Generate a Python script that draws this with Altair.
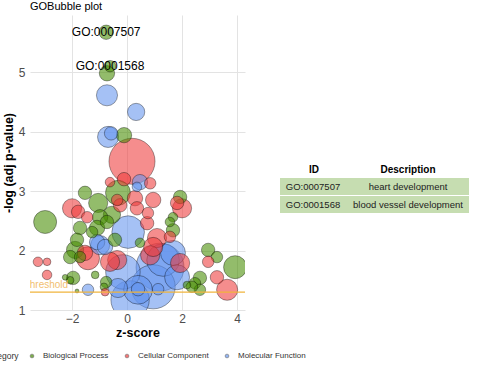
import altair as alt
import pandas as pd

zscore = [-0.76, -0.73, -0.62, -0.73, 0.33, -0.69, -0.58, -0.11, 0.18, -0.62,
          -0.11, 0.47, 0.84, 0.36, -1.53, -1.05, -0.33, -0.36, 0.29, 0.95,
          0.36, -2.00, -1.78, -1.45, -0.98, 1.93, 2.00, 1.82, 1.67, 1.67,
          -2.98, -1.71, -1.09, -0.73, 0.04, 1.09, 0.73, 1.56, -1.82, -0.98,
          -1.09, -0.44, 0.47, -2.07, -1.42, -1.71, -0.36, -3.24, -2.91, -2.91,
          -2.25, -1.96, -2.07, -1.16, -0.76, -0.84, -1.42, -1.82, -0.80, -0.15,
          1.20, 0.95, 0.40, -0.33, 1.13, 0.40, 1.82, 1.67, 0.11, 1.31,
          1.93, 0.84, -0.62, 2.95, 3.27, 2.95, 3.93, 3.27, 2.65, 2.47,
          2.65, 2.36, 3.64, 2.18, -0.55, -1.27, -0.25, 0.76, 1.56, -1.89,
          -1.53, -0.80, 0.95]
neglogp = [5.67, 4.98, 5.10, 4.61, 4.33, 3.91, 3.97, 3.94, 3.50, 3.15,
           3.20, 3.15, 3.13, 3.07, 2.97, 2.80, 2.97, 2.85, 2.88, 2.85,
           2.71, 2.71, 2.65, 2.56, 2.56, 2.90, 2.71, 2.80, 2.56, 2.34,
           2.48, 2.38, 2.38, 2.48, 2.31, 2.21, 2.46, 2.23, 2.18, 2.09,
           2.14, 2.18, 2.13, 1.89, 1.87, 1.89, 1.84, 1.81, 1.81, 1.59,
           1.55, 1.54, 1.50, 1.59, 1.47, 1.39, 1.34, 1.32, 1.30, 1.64,
           1.72, 1.39, 1.34, 1.37, 1.35, 1.35, 1.55, 1.96, 1.17, 1.84,
           1.79, 1.92, 1.81, 2.01, 1.89, 1.81, 1.72, 1.55, 1.54, 1.45,
           1.34, 1.39, 1.34, 1.42, 2.60, 2.31, 2.76, 2.63, 2.48, 2.01,
           1.96, 2.06, 2.06]
count = [56, 64, 36, 121, 81, 121, 49, 64, 576, 25,
         49, 64, 36, 25, 49, 100, 169, 36, 64, 64,
         49, 100, 49, 36, 64, 49, 100, 49, 25, 49,
         144, 49, 64, 49, 289, 100, 49, 36, 49, 100,
         64, 49, 25, 49, 144, 36, 100, 25, 16, 25,
         9, 49, 16, 16, 36, 16, 36, 4, 16, 324,
         625, 529, 225, 100, 36, 49, 169, 169, 400, 289,
         100, 100, 100, 49, 36, 36, 144, 49, 49, 36,
         36, 36, 121, 16, 81, 36, 49, 36, 25, 81,
         64, 64, 100]
category = ["BP", "BP", "BP", "MF", "MF", "MF", "MF", "BP", "CC", "CC",
            "CC", "MF", "CC", "MF", "BP", "BP", "BP", "CC", "CC", "CC",
            "CC", "CC", "CC", "CC", "BP", "BP", "CC", "CC", "BP", "BP",
            "BP", "BP", "BP", "BP", "MF", "CC", "CC", "CC", "BP", "MF",
            "MF", "BP", "BP", "BP", "CC", "BP", "CC", "CC", "CC", "CC",
            "BP", "BP", "BP", "BP", "BP", "BP", "MF", "BP", "CC", "MF",
            "MF", "MF", "MF", "MF", "MF", "MF", "MF", "MF", "MF", "MF",
            "CC", "CC", "CC", "BP", "BP", "CC", "BP", "CC", "BP", "BP",
            "BP", "BP", "CC", "BP", "BP", "BP", "CC", "CC", "BP", "BP",
            "CC", "MF", "CC"]
category_names = {"BP": "Biological Process", "CC": "Cellular Component",
                  "MF": "Molecular Function"}
category_colors = ["#458B00", "#EE3B3B", "#6495ED"]

label_ids = ["GO:0007507", "GO:0001568"]
label_desc = ["heart development", "blood vessel development"]
label_index = [0, 2]
threshold = 1.30103

df = pd.DataFrame({
    "zscore": zscore,
    "neglogp": neglogp,
    "count": count,
    "category": [category_names[c] for c in category],
})
lab = pd.DataFrame({
    "zscore": [zscore[i] for i in label_index],
    "neglogp": [neglogp[i] for i in label_index],
    "ID": label_ids,
})

FONT = "Liberation Sans"
W, H = 215, 295
xdom = [-3.53, 4.29]
ydom = [1.0, 5.96]

xenc = alt.X("zscore:Q", title="z-score",
             scale=alt.Scale(domain=xdom, nice=False, zero=False),
             axis=alt.Axis(values=[-2, 0, 2, 4], format="d", grid=True, ticks=False, domain=False,
                           labelFontSize=12, labelColor="#4D4D4D", labelPadding=3,
                           titleFontSize=12.5, titleFontWeight="bold", titleColor="black",
                           titlePadding=2, gridColor="#E3E3E3"))
yenc = alt.Y("neglogp:Q", title="-log (adj p-value)",
             scale=alt.Scale(domain=ydom, nice=False, zero=False),
             axis=alt.Axis(values=[1, 2, 3, 4, 5], format="d", grid=True, ticks=False, domain=False,
                           labelFontSize=12, labelColor="#4D4D4D", labelPadding=5,
                           titleFontSize=12.5, titleFontWeight="bold", titleColor="black",
                           titlePadding=3, gridColor="#E3E3E3"))

base = alt.Chart(df)

bubbles = base.mark_circle(clip=True, fillOpacity=0.58, stroke="black",
                           strokeOpacity=0.45, strokeWidth=0.8).encode(
    x=xenc, y=yenc,
    size=alt.Size("count:Q", scale=alt.Scale(domain=[0, 625], range=[0, 2300]), legend=None),
    color=alt.Color("category:N", title="Category",
                    scale=alt.Scale(domain=list(category_names.values()), range=category_colors),
                    legend=alt.Legend(orient="none", legendX=-46, legendY=337,
                                      direction="horizontal", titleOrient="left",
                                      titleFontSize=8.5, titleFontWeight="normal",
                                      titleColor="#333333", titlePadding=9,
                                      labelFontSize=8, labelColor="#333333",
                                      symbolSize=14, symbolStrokeColor="#333333",
                                      symbolStrokeWidth=0.6, labelOffset=7,
                                      columnPadding=14, symbolOpacity=0.7)),
    order=alt.Order("count:Q", sort="descending"),
)

thr_rule = alt.Chart(pd.DataFrame({"t": [threshold]})).mark_rule(
    color="#F0B43C", strokeWidth=1.2).encode(y=alt.Y("t:Q"))

thr_text = alt.Chart(pd.DataFrame({"t": [threshold], "x": [xdom[0]]})).mark_text(
    text="threshold", align="left", baseline="alphabetic", clip=True,
    color="#F2C070", fontSize=10, dx=-3, dy=-4).encode(x="x:Q", y="t:Q")

labels = alt.Chart(lab).mark_text(fontSize=12, color="black").encode(
    x="zscore:Q", y="neglogp:Q", text="ID:N")

# table to the right of the plot
tbl_layers = []
tbl_layers.append(alt.Chart(pd.DataFrame({"h": ["ID"]})).mark_text(
    fontSize=10, fontWeight="bold", color="black").encode(
    x=alt.value(284), y=alt.value(155), text="h:N"))
tbl_layers.append(alt.Chart(pd.DataFrame({"h": ["Description"]})).mark_text(
    fontSize=10, fontWeight="bold", color="black").encode(
    x=alt.value(378), y=alt.value(155), text="h:N"))
row_top = 163
row_h = 17
for i, (gid, desc) in enumerate(zip(label_ids, label_desc)):
    t = row_top + i * (row_h + 1)
    rowdf = pd.DataFrame({"ID": [gid], "Description": [desc]})
    tbl_layers.append(alt.Chart(rowdf).mark_rect(color="#C6DDB1").encode(
        x=alt.value(250), x2=alt.value(439), y=alt.value(t), y2=alt.value(t + row_h)))
    tbl_layers.append(alt.Chart(rowdf).mark_text(fontSize=9.5, color="#222222").encode(
        x=alt.value(283), y=alt.value(t + row_h / 2 + 0.5), text="ID:N"))
    tbl_layers.append(alt.Chart(rowdf).mark_text(fontSize=9.5, color="#222222").encode(
        x=alt.value(378), y=alt.value(t + row_h / 2 + 0.5), text="Description:N"))

chart = alt.layer(bubbles, thr_rule, thr_text, labels, *tbl_layers).properties(
    width=W, height=H,
    title=alt.TitleParams("GOBubble plot", anchor="start", frame="group", fontSize=11,
                          fontWeight="normal", color="black", offset=3),
    autosize=alt.AutoSizeParams(type="none"),
    padding={"left": 30, "top": 15, "right": 255, "bottom": 65},
).configure(font=FONT).configure_view(stroke=None)

chart.save("out.html", embed_options={"renderer": "svg", "actions": False})
